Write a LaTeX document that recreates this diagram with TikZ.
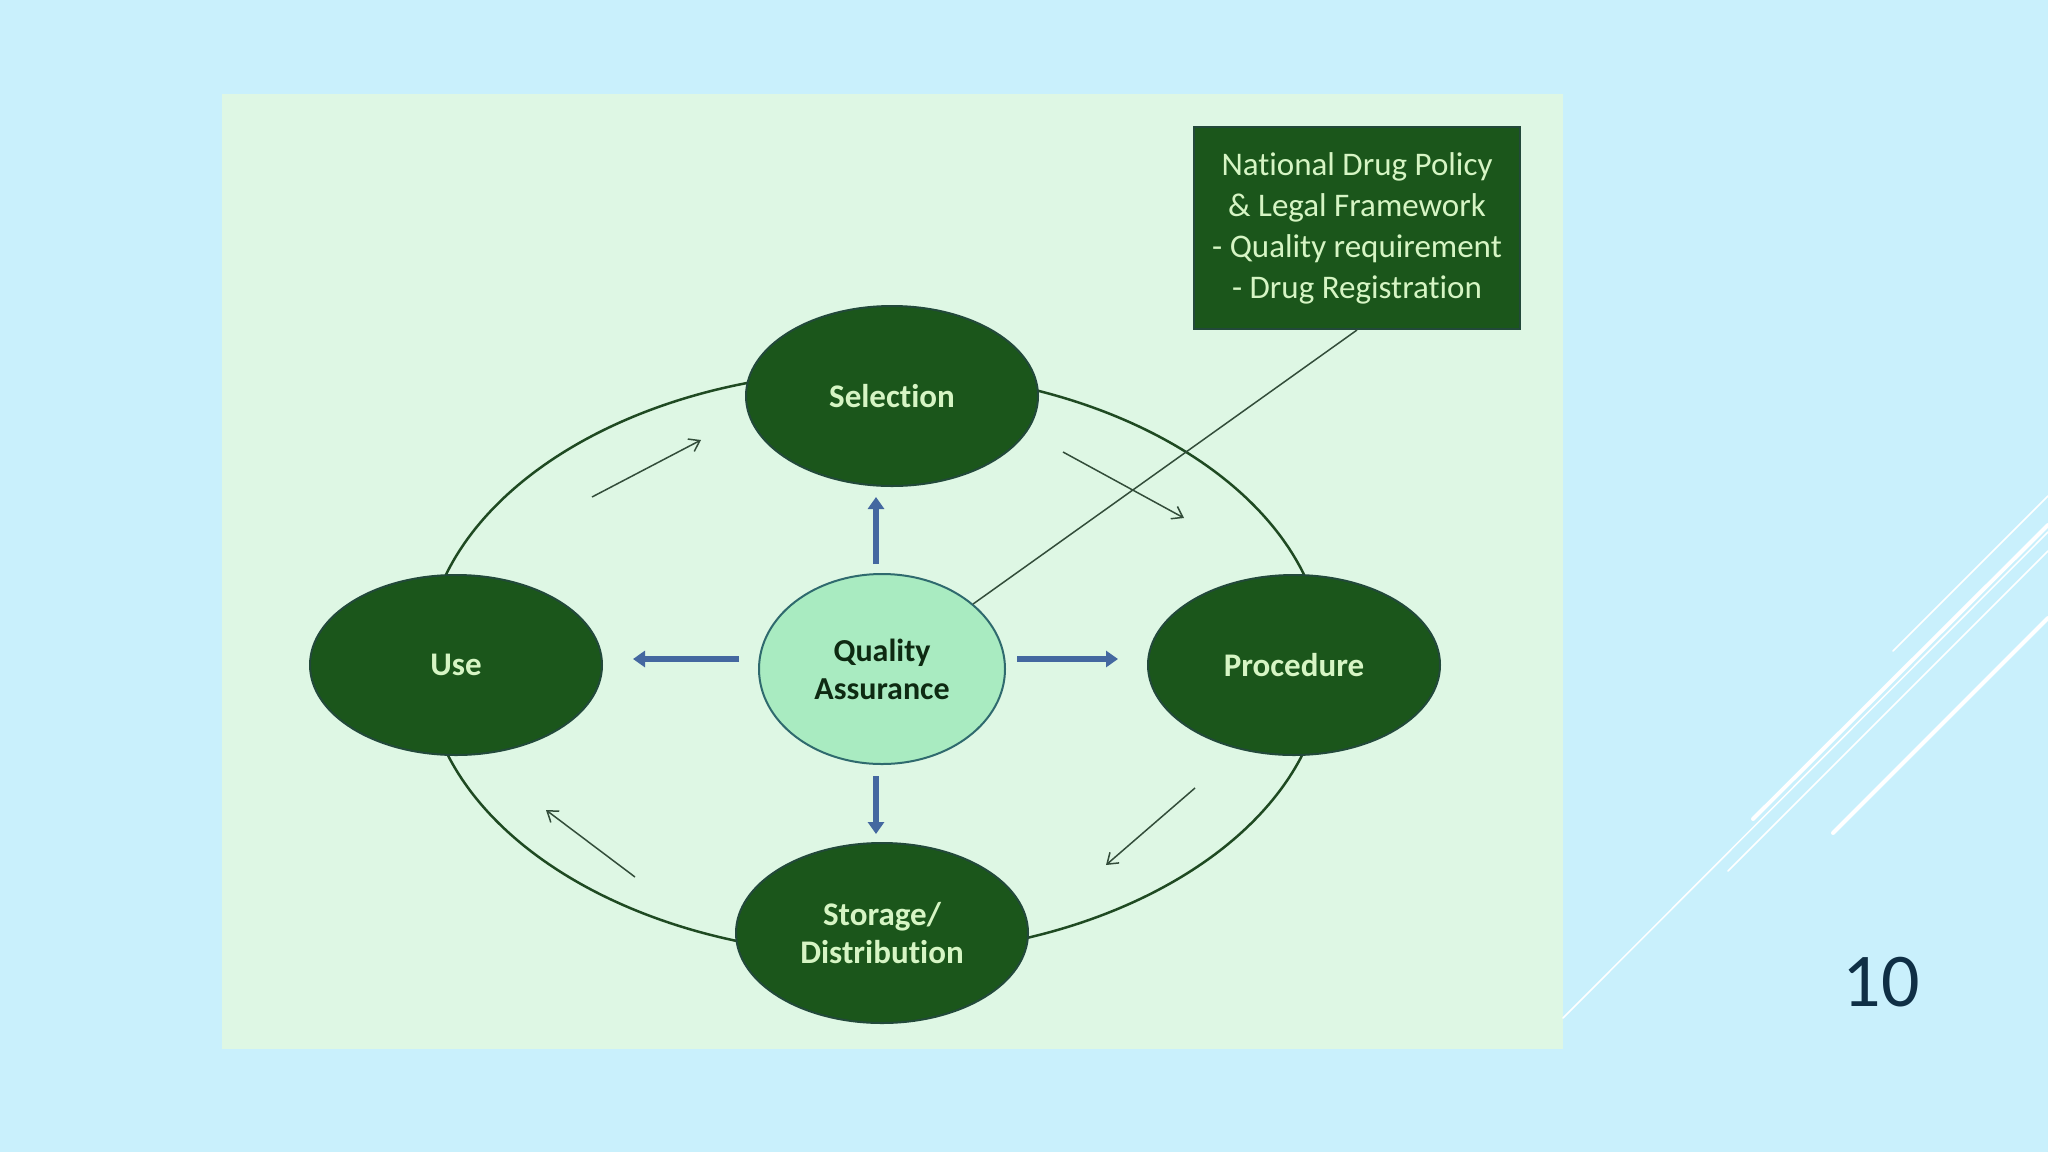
\documentclass[tikz,border=0pt]{standalone}
\usepackage{fontspec}
\setmainfont{Carlito}[Ligatures=NoCommon]
\usepackage{tikz}
\usetikzlibrary{shapes,arrows,arrows.meta,positioning,calc}
\usepackage{xcolor}

\definecolor{slidebg}{HTML}{C9F0FC}
\definecolor{panelbg}{HTML}{DEF7E4}
\definecolor{stagegreen}{HTML}{1B561B}
\definecolor{stageline}{HTML}{22493A}
\definecolor{stagetext}{HTML}{D6F5C4}
\definecolor{qafill}{HTML}{A9EBC1}
\definecolor{qaline}{HTML}{2F6A6E}
\definecolor{qatext}{HTML}{0E2A12}
\definecolor{pusharrow}{HTML}{4468A0}
\definecolor{flowline}{HTML}{334D3A}
\definecolor{ringline}{HTML}{1F4A22}
\definecolor{pagenum}{HTML}{0F2F45}

\begin{document}
\begin{tikzpicture}[x=1pt, y=-1pt,
    stage/.style={ellipse, draw=stageline, line width=2pt, fill=stagegreen, text=stagetext,
        minimum width=292pt, minimum height=180pt, inner sep=0pt, align=center,
        font=\fontsize{33}{38}\selectfont\bfseries},
    qa/.style={ellipse, draw=qaline, line width=2pt, fill=qafill, text=qatext,
        minimum width=246pt, minimum height=190pt, inner sep=0pt, align=center,
        font=\fontsize{32}{38}\selectfont\bfseries},
    policybox/.style={draw=stageline, line width=2pt, fill=stagegreen, text=stagetext,
        minimum width=326pt, minimum height=202pt, inner sep=0pt, align=center,
        font=\fontsize{33}{41}\selectfont},
    push/.style={draw=pusharrow, line width=6pt, -{Triangle[length=12pt,width=16pt]}},
    flow/.style={draw=flowline, line width=1.5pt, -{Straight Barb[length=10pt,width=14pt]}},
    deco/.style={draw=white, line cap=round}]
    % slide and panel
    \fill[slidebg] (0,0) rectangle (2048,1152);
    \useasboundingbox (0,0) rectangle (2048,1152);
    \fill[panelbg] (222,94) rectangle (1563,1049);
    \draw[deco, line width=1.5pt] (1563,1018) -- (2048,532);
    \draw[deco, line width=1.5pt] (1728,871) -- (2048,551);
    \draw[deco, line width=1.5pt] (1893,651) -- (2048,496);
    \draw[deco, line width=4pt] (1753,819) -- (2048,525);
    \draw[deco, line width=4pt] (1833,833) -- (2048,618);
    \node[text=pagenum, font=\fontsize{76}{80}\selectfont] (num) at (1881,982) {10};

    % cycle ring
    \coordinate (ringc) at (875,663);
    \draw[ringline, line width=2.5pt] (ringc) ellipse [x radius=450pt, y radius=292pt];

    % stages
    \node[stage] (sel) at (892,396) {Selection};
    \node[stage] (proc) at (1294,665) {Procedure};
    \node[stage] (store) at (882,933) {Storage/\\Distribution};
    \node[stage] (use) at (456,665) {Use};
    \node[qa] (qa) at (882,669) {Quality\\Assurance};

    \node[policybox] (policy) at (1357,228) {National Drug Policy\\\& Legal Framework\\- Quality requirement\\- Drug Registration};
    \draw[flowline, line width=1.5pt] (qa) -- (policy.south);

    % push arrows from QA
    \draw[push, shorten <=9pt, shorten >=10pt] ([xshift=-6pt]qa.north) -- ([xshift=-6pt]qa.north |- sel.south);
    \draw[push, shorten <=11pt, shorten >=8pt] ([xshift=-6pt]qa.south) -- ([xshift=-6pt]qa.south |- store.north);
    \draw[push, shorten <=19pt, shorten >=30pt] ([yshift=10pt]qa.west) -- ([yshift=10pt]qa.west -| use.east);
    \draw[push, shorten <=11pt, shorten >=29pt] ([yshift=10pt]qa.east) -- ([yshift=10pt]qa.east -| proc.west);

    % cycle direction
    \coordinate (t1) at (592,497);  \coordinate (h1) at (701,440);
    \coordinate (t2) at (1063,452); \coordinate (h2) at (1184,518);
    \coordinate (t3) at (1195,788); \coordinate (h3) at (1106,865);
    \coordinate (t4) at (635,877);  \coordinate (h4) at (546,810);
    \draw[flow] (t1) -- (h1);
    \draw[flow] (t2) -- (h2);
    \draw[flow] (t3) -- (h3);
    \draw[flow] (t4) -- (h4);
\end{tikzpicture}
\end{document}
